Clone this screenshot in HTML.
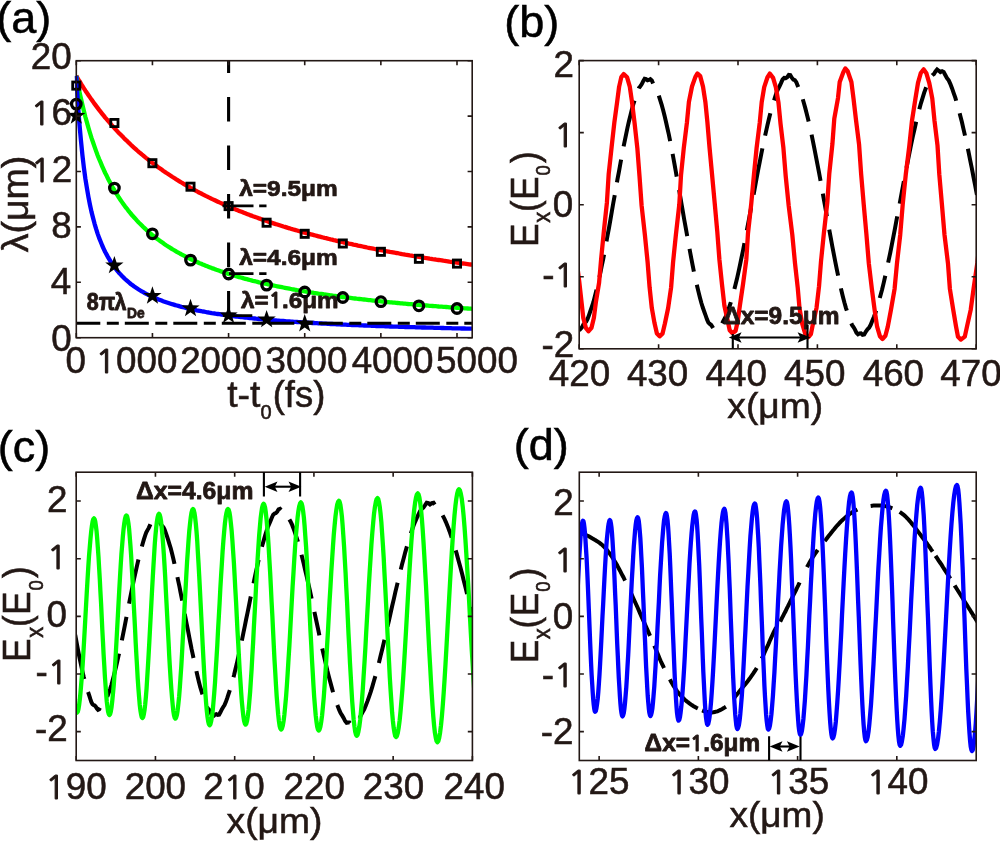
<!DOCTYPE html>
<html><head><meta charset="utf-8"><title>Figure</title>
<style>html,body{margin:0;padding:0;background:#fff;}svg{display:block;}</style></head>
<body>
<svg width="1000" height="841" viewBox="0 0 1000 841" font-family="'Liberation Sans', sans-serif">
<defs>
<clipPath id="ca"><rect x="74.8" y="60.7" width="397.40" height="277.00"/></clipPath>
<clipPath id="cb"><rect x="579.2" y="60.6" width="397.00" height="288.20"/></clipPath>
<clipPath id="cc"><rect x="76.2" y="472.2" width="396.20" height="288.30"/></clipPath>
<clipPath id="cd"><rect x="579.3" y="472.2" width="396.90" height="288.30"/></clipPath>
</defs>
<g clip-path="url(#ca)">
<path d="M76.3,75.9 L77.8,78.5 L79.3,81.0 L80.9,83.5 L82.4,86.0 L83.9,88.3 L85.4,90.7 L87.0,93.0 L88.5,95.2 L90.0,97.4 L91.5,99.6 L93.1,101.8 L94.6,103.9 L96.1,105.9 L97.6,107.9 L99.1,109.9 L100.7,111.9 L102.2,113.8 L103.7,115.7 L105.2,117.6 L106.8,119.4 L108.3,121.2 L109.8,122.9 L111.3,124.7 L112.8,126.4 L114.4,128.1 L115.9,129.7 L117.4,131.4 L118.9,133.0 L120.5,134.6 L122.0,136.1 L123.5,137.6 L125.0,139.2 L126.6,140.6 L128.1,142.1 L129.6,143.5 L131.1,145.0 L132.6,146.4 L134.2,147.8 L135.7,149.1 L137.2,150.5 L138.7,151.8 L140.3,153.1 L141.8,154.4 L143.3,155.6 L144.8,156.9 L146.3,158.1 L147.9,159.3 L149.4,160.5 L150.9,161.7 L152.4,162.9 L154.0,164.1 L155.5,165.2 L157.0,166.3 L158.5,167.4 L160.1,168.5 L161.6,169.6 L163.1,170.7 L164.6,171.7 L166.1,172.8 L167.7,173.8 L169.2,174.8 L170.7,175.8 L172.2,176.8 L173.8,177.8 L175.3,178.7 L176.8,179.7 L178.3,180.6 L179.9,181.6 L181.4,182.5 L182.9,183.4 L184.4,184.3 L185.9,185.2 L187.5,186.1 L189.0,186.9 L190.5,187.8 L192.0,188.6 L193.6,189.5 L195.1,190.3 L196.6,191.1 L198.1,192.0 L199.6,192.8 L201.2,193.5 L202.7,194.3 L204.2,195.1 L205.7,195.9 L207.3,196.6 L208.8,197.4 L210.3,198.1 L211.8,198.9 L213.4,199.6 L214.9,200.3 L216.4,201.0 L217.9,201.7 L219.4,202.4 L221.0,203.1 L222.5,203.8 L224.0,204.5 L225.5,205.2 L227.1,205.8 L228.6,206.5 L230.1,207.1 L231.6,207.8 L233.1,208.4 L234.7,209.1 L236.2,209.7 L237.7,210.3 L239.2,210.9 L240.8,211.5 L242.3,212.1 L243.8,212.7 L245.3,213.3 L246.9,213.9 L248.4,214.5 L249.9,215.1 L251.4,215.6 L252.9,216.2 L254.5,216.7 L256.0,217.3 L257.5,217.8 L259.0,218.4 L260.6,218.9 L262.1,219.5 L263.6,220.0 L265.1,220.5 L266.6,221.0 L268.2,221.6 L269.7,222.1 L271.2,222.6 L272.7,223.1 L274.3,223.6 L275.8,224.1 L277.3,224.5 L278.8,225.0 L280.4,225.5 L281.9,226.0 L283.4,226.5 L284.9,226.9 L286.4,227.4 L288.0,227.9 L289.5,228.3 L291.0,228.8 L292.5,229.2 L294.1,229.7 L295.6,230.1 L297.1,230.5 L298.6,231.0 L300.2,231.4 L301.7,231.8 L303.2,232.3 L304.7,232.7 L306.2,233.1 L307.8,233.5 L309.3,233.9 L310.8,234.3 L312.3,234.7 L313.9,235.1 L315.4,235.5 L316.9,235.9 L318.4,236.3 L319.9,236.7 L321.5,237.1 L323.0,237.5 L324.5,237.9 L326.0,238.2 L327.6,238.6 L329.1,239.0 L330.6,239.4 L332.1,239.7 L333.7,240.1 L335.2,240.4 L336.7,240.8 L338.2,241.2 L339.7,241.5 L341.3,241.9 L342.8,242.2 L344.3,242.6 L345.8,242.9 L347.4,243.2 L348.9,243.6 L350.4,243.9 L351.9,244.2 L353.4,244.6 L355.0,244.9 L356.5,245.2 L358.0,245.6 L359.5,245.9 L361.1,246.2 L362.6,246.5 L364.1,246.8 L365.6,247.1 L367.2,247.5 L368.7,247.8 L370.2,248.1 L371.7,248.4 L373.2,248.7 L374.8,249.0 L376.3,249.3 L377.8,249.6 L379.3,249.9 L380.9,250.2 L382.4,250.4 L383.9,250.7 L385.4,251.0 L387.0,251.3 L388.5,251.6 L390.0,251.9 L391.5,252.1 L393.0,252.4 L394.6,252.7 L396.1,253.0 L397.6,253.2 L399.1,253.5 L400.7,253.8 L402.2,254.1 L403.7,254.3 L405.2,254.6 L406.7,254.8 L408.3,255.1 L409.8,255.4 L411.3,255.6 L412.8,255.9 L414.4,256.1 L415.9,256.4 L417.4,256.6 L418.9,256.9 L420.5,257.1 L422.0,257.4 L423.5,257.6 L425.0,257.9 L426.5,258.1 L428.1,258.3 L429.6,258.6 L431.1,258.8 L432.6,259.1 L434.2,259.3 L435.7,259.5 L437.2,259.8 L438.7,260.0 L440.2,260.2 L441.8,260.4 L443.3,260.7 L444.8,260.9 L446.3,261.1 L447.9,261.3 L449.4,261.6 L450.9,261.8 L452.4,262.0 L454.0,262.2 L455.5,262.4 L457.0,262.6 L458.5,262.9 L460.0,263.1 L461.6,263.3 L463.1,263.5 L464.6,263.7 L466.1,263.9 L467.7,264.1 L469.2,264.3 L470.7,264.5 L472.2,264.7 L473.8,264.9 L475.3,265.1 L476.8,265.3 L478.3,265.5 L479.8,265.7" fill="none" stroke="#ff0000" stroke-width="4.3" stroke-linejoin="round"/>
<path d="M76.3,75.9 L77.8,83.8 L79.3,91.2 L80.9,98.2 L82.4,104.8 L83.9,111.1 L85.4,117.0 L87.0,122.6 L88.5,128.0 L90.0,133.0 L91.5,137.9 L93.1,142.5 L94.6,146.9 L96.1,151.1 L97.6,155.2 L99.1,159.0 L100.7,162.7 L102.2,166.3 L103.7,169.7 L105.2,173.0 L106.8,176.1 L108.3,179.2 L109.8,182.1 L111.3,184.9 L112.8,187.6 L114.4,190.2 L115.9,192.8 L117.4,195.2 L118.9,197.6 L120.5,199.9 L122.0,202.1 L123.5,204.2 L125.0,206.3 L126.6,208.3 L128.1,210.3 L129.6,212.2 L131.1,214.0 L132.6,215.8 L134.2,217.5 L135.7,219.2 L137.2,220.9 L138.7,222.5 L140.3,224.0 L141.8,225.5 L143.3,227.0 L144.8,228.4 L146.3,229.8 L147.9,231.2 L149.4,232.5 L150.9,233.8 L152.4,235.1 L154.0,236.3 L155.5,237.5 L157.0,238.7 L158.5,239.8 L160.1,240.9 L161.6,242.0 L163.1,243.1 L164.6,244.2 L166.1,245.2 L167.7,246.2 L169.2,247.2 L170.7,248.1 L172.2,249.1 L173.8,250.0 L175.3,250.9 L176.8,251.8 L178.3,252.6 L179.9,253.5 L181.4,254.3 L182.9,255.1 L184.4,255.9 L185.9,256.7 L187.5,257.5 L189.0,258.2 L190.5,259.0 L192.0,259.7 L193.6,260.4 L195.1,261.1 L196.6,261.8 L198.1,262.5 L199.6,263.2 L201.2,263.8 L202.7,264.5 L204.2,265.1 L205.7,265.7 L207.3,266.3 L208.8,266.9 L210.3,267.5 L211.8,268.1 L213.4,268.6 L214.9,269.2 L216.4,269.8 L217.9,270.3 L219.4,270.8 L221.0,271.4 L222.5,271.9 L224.0,272.4 L225.5,272.9 L227.1,273.4 L228.6,273.9 L230.1,274.3 L231.6,274.8 L233.1,275.3 L234.7,275.7 L236.2,276.2 L237.7,276.6 L239.2,277.1 L240.8,277.5 L242.3,277.9 L243.8,278.4 L245.3,278.8 L246.9,279.2 L248.4,279.6 L249.9,280.0 L251.4,280.4 L252.9,280.8 L254.5,281.1 L256.0,281.5 L257.5,281.9 L259.0,282.3 L260.6,282.6 L262.1,283.0 L263.6,283.3 L265.1,283.7 L266.6,284.0 L268.2,284.4 L269.7,284.7 L271.2,285.0 L272.7,285.3 L274.3,285.7 L275.8,286.0 L277.3,286.3 L278.8,286.6 L280.4,286.9 L281.9,287.2 L283.4,287.5 L284.9,287.8 L286.4,288.1 L288.0,288.4 L289.5,288.7 L291.0,289.0 L292.5,289.3 L294.1,289.5 L295.6,289.8 L297.1,290.1 L298.6,290.3 L300.2,290.6 L301.7,290.9 L303.2,291.1 L304.7,291.4 L306.2,291.6 L307.8,291.9 L309.3,292.1 L310.8,292.4 L312.3,292.6 L313.9,292.9 L315.4,293.1 L316.9,293.3 L318.4,293.6 L319.9,293.8 L321.5,294.0 L323.0,294.2 L324.5,294.5 L326.0,294.7 L327.6,294.9 L329.1,295.1 L330.6,295.3 L332.1,295.5 L333.7,295.8 L335.2,296.0 L336.7,296.2 L338.2,296.4 L339.7,296.6 L341.3,296.8 L342.8,297.0 L344.3,297.2 L345.8,297.4 L347.4,297.5 L348.9,297.7 L350.4,297.9 L351.9,298.1 L353.4,298.3 L355.0,298.5 L356.5,298.7 L358.0,298.8 L359.5,299.0 L361.1,299.2 L362.6,299.4 L364.1,299.5 L365.6,299.7 L367.2,299.9 L368.7,300.1 L370.2,300.2 L371.7,300.4 L373.2,300.6 L374.8,300.7 L376.3,300.9 L377.8,301.0 L379.3,301.2 L380.9,301.4 L382.4,301.5 L383.9,301.7 L385.4,301.8 L387.0,302.0 L388.5,302.1 L390.0,302.3 L391.5,302.4 L393.0,302.6 L394.6,302.7 L396.1,302.9 L397.6,303.0 L399.1,303.1 L400.7,303.3 L402.2,303.4 L403.7,303.6 L405.2,303.7 L406.7,303.8 L408.3,304.0 L409.8,304.1 L411.3,304.2 L412.8,304.4 L414.4,304.5 L415.9,304.6 L417.4,304.8 L418.9,304.9 L420.5,305.0 L422.0,305.1 L423.5,305.3 L425.0,305.4 L426.5,305.5 L428.1,305.6 L429.6,305.8 L431.1,305.9 L432.6,306.0 L434.2,306.1 L435.7,306.2 L437.2,306.3 L438.7,306.5 L440.2,306.6 L441.8,306.7 L443.3,306.8 L444.8,306.9 L446.3,307.0 L447.9,307.1 L449.4,307.3 L450.9,307.4 L452.4,307.5 L454.0,307.6 L455.5,307.7 L457.0,307.8 L458.5,307.9 L460.0,308.0 L461.6,308.1 L463.1,308.2 L464.6,308.3 L466.1,308.4 L467.7,308.5 L469.2,308.6 L470.7,308.7 L472.2,308.8 L473.8,308.9 L475.3,309.0 L476.8,309.1 L478.3,309.2 L479.8,309.3" fill="none" stroke="#00ff00" stroke-width="4.3" stroke-linejoin="round"/>
<path d="M76.3,75.9 L77.8,101.5 L79.3,122.5 L80.9,140.0 L82.4,155.0 L83.9,167.8 L85.4,178.9 L87.0,188.7 L88.5,197.3 L90.0,205.0 L91.5,211.9 L93.1,218.1 L94.6,223.8 L96.1,228.9 L97.6,233.6 L99.1,237.9 L100.7,241.8 L102.2,245.5 L103.7,248.8 L105.2,252.0 L106.8,254.9 L108.3,257.7 L109.8,260.2 L111.3,262.6 L112.8,264.9 L114.4,267.0 L115.9,269.0 L117.4,270.9 L118.9,272.7 L120.5,274.4 L122.0,276.0 L123.5,277.5 L125.0,279.0 L126.6,280.4 L128.1,281.7 L129.6,283.0 L131.1,284.2 L132.6,285.3 L134.2,286.5 L135.7,287.5 L137.2,288.5 L138.7,289.5 L140.3,290.5 L141.8,291.4 L143.3,292.2 L144.8,293.1 L146.3,293.9 L147.9,294.7 L149.4,295.4 L150.9,296.1 L152.4,296.8 L154.0,297.5 L155.5,298.2 L157.0,298.8 L158.5,299.4 L160.1,300.0 L161.6,300.6 L163.1,301.2 L164.6,301.7 L166.1,302.2 L167.7,302.7 L169.2,303.2 L170.7,303.7 L172.2,304.2 L173.8,304.6 L175.3,305.1 L176.8,305.5 L178.3,305.9 L179.9,306.4 L181.4,306.8 L182.9,307.1 L184.4,307.5 L185.9,307.9 L187.5,308.3 L189.0,308.6 L190.5,309.0 L192.0,309.3 L193.6,309.6 L195.1,309.9 L196.6,310.3 L198.1,310.6 L199.6,310.9 L201.2,311.2 L202.7,311.5 L204.2,311.7 L205.7,312.0 L207.3,312.3 L208.8,312.5 L210.3,312.8 L211.8,313.1 L213.4,313.3 L214.9,313.5 L216.4,313.8 L217.9,314.0 L219.4,314.2 L221.0,314.5 L222.5,314.7 L224.0,314.9 L225.5,315.1 L227.1,315.3 L228.6,315.5 L230.1,315.7 L231.6,315.9 L233.1,316.1 L234.7,316.3 L236.2,316.5 L237.7,316.7 L239.2,316.9 L240.8,317.0 L242.3,317.2 L243.8,317.4 L245.3,317.6 L246.9,317.7 L248.4,317.9 L249.9,318.1 L251.4,318.2 L252.9,318.4 L254.5,318.5 L256.0,318.7 L257.5,318.8 L259.0,319.0 L260.6,319.1 L262.1,319.3 L263.6,319.4 L265.1,319.5 L266.6,319.7 L268.2,319.8 L269.7,319.9 L271.2,320.1 L272.7,320.2 L274.3,320.3 L275.8,320.4 L277.3,320.6 L278.8,320.7 L280.4,320.8 L281.9,320.9 L283.4,321.0 L284.9,321.1 L286.4,321.3 L288.0,321.4 L289.5,321.5 L291.0,321.6 L292.5,321.7 L294.1,321.8 L295.6,321.9 L297.1,322.0 L298.6,322.1 L300.2,322.2 L301.7,322.3 L303.2,322.4 L304.7,322.5 L306.2,322.6 L307.8,322.7 L309.3,322.8 L310.8,322.9 L312.3,323.0 L313.9,323.0 L315.4,323.1 L316.9,323.2 L318.4,323.3 L319.9,323.4 L321.5,323.5 L323.0,323.6 L324.5,323.6 L326.0,323.7 L327.6,323.8 L329.1,323.9 L330.6,324.0 L332.1,324.0 L333.7,324.1 L335.2,324.2 L336.7,324.3 L338.2,324.3 L339.7,324.4 L341.3,324.5 L342.8,324.6 L344.3,324.6 L345.8,324.7 L347.4,324.8 L348.9,324.8 L350.4,324.9 L351.9,325.0 L353.4,325.0 L355.0,325.1 L356.5,325.2 L358.0,325.2 L359.5,325.3 L361.1,325.4 L362.6,325.4 L364.1,325.5 L365.6,325.5 L367.2,325.6 L368.7,325.7 L370.2,325.7 L371.7,325.8 L373.2,325.8 L374.8,325.9 L376.3,326.0 L377.8,326.0 L379.3,326.1 L380.9,326.1 L382.4,326.2 L383.9,326.2 L385.4,326.3 L387.0,326.3 L388.5,326.4 L390.0,326.5 L391.5,326.5 L393.0,326.6 L394.6,326.6 L396.1,326.7 L397.6,326.7 L399.1,326.8 L400.7,326.8 L402.2,326.9 L403.7,326.9 L405.2,327.0 L406.7,327.0 L408.3,327.0 L409.8,327.1 L411.3,327.1 L412.8,327.2 L414.4,327.2 L415.9,327.3 L417.4,327.3 L418.9,327.4 L420.5,327.4 L422.0,327.5 L423.5,327.5 L425.0,327.5 L426.5,327.6 L428.1,327.6 L429.6,327.7 L431.1,327.7 L432.6,327.7 L434.2,327.8 L435.7,327.8 L437.2,327.9 L438.7,327.9 L440.2,327.9 L441.8,328.0 L443.3,328.0 L444.8,328.1 L446.3,328.1 L447.9,328.1 L449.4,328.2 L450.9,328.2 L452.4,328.3 L454.0,328.3 L455.5,328.3 L457.0,328.4 L458.5,328.4 L460.0,328.4 L461.6,328.5 L463.1,328.5 L464.6,328.5 L466.1,328.6 L467.7,328.6 L469.2,328.6 L470.7,328.7 L472.2,328.7 L473.8,328.7 L475.3,328.8 L476.8,328.8 L478.3,328.8 L479.8,328.9" fill="none" stroke="#0000ff" stroke-width="4.3" stroke-linejoin="round"/>
<path d="M76.3,323.2H472.2" stroke="#000" stroke-width="3.1" stroke-dasharray="24,6.5,12,6" fill="none"/>
<path d="M228.6,48.4V337.7" stroke="#000" stroke-width="3.1" stroke-dasharray="24.5,24" fill="none"/>
</g>
<text transform="translate(239.18,195.77) scale(0.2446,0.2289)" font-size="100" font-weight="bold" stroke="#231815" stroke-width="3.27" stroke-linejoin="round" fill="#231815">λ=9.5μm</text>
<text transform="translate(239.18,265.17) scale(0.2446,0.2289)" font-size="100" font-weight="bold" stroke="#231815" stroke-width="3.27" stroke-linejoin="round" fill="#231815">λ=4.6μm</text>
<text transform="translate(241.08,308.07) scale(0.2424,0.2289)" font-size="100" font-weight="bold" stroke="#231815" stroke-width="3.30" stroke-linejoin="round" fill="#231815">λ=<tspan font-family="NanumGothic, 'Liberation Sans', sans-serif" font-size="90">1</tspan>.6μm</text>
<rect x="72.7" y="82.0" width="7.2" height="7.2" fill="none" stroke="#000" stroke-width="2.8"/>
<rect x="110.8" y="119.4" width="7.2" height="7.2" fill="none" stroke="#000" stroke-width="2.8"/>
<rect x="148.8" y="159.6" width="7.2" height="7.2" fill="none" stroke="#000" stroke-width="2.8"/>
<rect x="186.9" y="183.1" width="7.2" height="7.2" fill="none" stroke="#000" stroke-width="2.8"/>
<rect x="225.0" y="202.5" width="7.2" height="7.2" fill="none" stroke="#000" stroke-width="2.8"/>
<rect x="263.0" y="219.1" width="7.2" height="7.2" fill="none" stroke="#000" stroke-width="2.8"/>
<rect x="301.1" y="230.2" width="7.2" height="7.2" fill="none" stroke="#000" stroke-width="2.8"/>
<rect x="339.2" y="239.9" width="7.2" height="7.2" fill="none" stroke="#000" stroke-width="2.8"/>
<rect x="377.3" y="248.2" width="7.2" height="7.2" fill="none" stroke="#000" stroke-width="2.8"/>
<rect x="415.3" y="255.2" width="7.2" height="7.2" fill="none" stroke="#000" stroke-width="2.8"/>
<rect x="453.4" y="260.0" width="7.2" height="7.2" fill="none" stroke="#000" stroke-width="2.8"/>
<circle cx="76.3" cy="104.1" r="4.75" fill="none" stroke="#000" stroke-width="3.3"/>
<circle cx="114.4" cy="188.1" r="4.75" fill="none" stroke="#000" stroke-width="3.3"/>
<circle cx="152.4" cy="233.8" r="4.75" fill="none" stroke="#000" stroke-width="3.3"/>
<circle cx="190.5" cy="260.1" r="4.75" fill="none" stroke="#000" stroke-width="3.3"/>
<circle cx="228.6" cy="274.0" r="4.75" fill="none" stroke="#000" stroke-width="3.3"/>
<circle cx="266.6" cy="285.1" r="4.75" fill="none" stroke="#000" stroke-width="3.3"/>
<circle cx="304.7" cy="292.0" r="4.75" fill="none" stroke="#000" stroke-width="3.3"/>
<circle cx="342.8" cy="297.5" r="4.75" fill="none" stroke="#000" stroke-width="3.3"/>
<circle cx="380.9" cy="301.7" r="4.75" fill="none" stroke="#000" stroke-width="3.3"/>
<circle cx="418.9" cy="305.8" r="4.75" fill="none" stroke="#000" stroke-width="3.3"/>
<circle cx="457.0" cy="308.5" r="4.75" fill="none" stroke="#000" stroke-width="3.3"/>
<polygon points="76.3,106.3 78.5,112.8 85.4,112.9 79.9,117.1 81.9,123.7 76.3,119.7 70.7,123.7 72.7,117.1 67.2,112.9 74.1,112.8" fill="#000"/>
<polygon points="114.4,255.9 116.6,262.4 123.5,262.5 118.0,266.7 120.0,273.2 114.4,269.3 108.7,273.2 110.8,266.7 105.2,262.5 112.1,262.4" fill="#000"/>
<polygon points="152.4,286.3 154.7,292.9 161.6,293.0 156.1,297.1 158.1,303.7 152.4,299.8 146.8,303.7 148.8,297.1 143.3,293.0 150.2,292.9" fill="#000"/>
<polygon points="190.5,298.8 192.7,305.3 199.6,305.4 194.1,309.6 196.2,316.2 190.5,312.2 184.9,316.2 186.9,309.6 181.4,305.4 188.3,305.3" fill="#000"/>
<polygon points="228.6,305.7 230.8,312.3 237.7,312.4 232.2,316.5 234.2,323.1 228.6,319.1 222.9,323.1 225.0,316.5 219.4,312.4 226.3,312.3" fill="#000"/>
<polygon points="266.6,309.9 268.9,316.4 275.8,316.5 270.3,320.7 272.3,327.3 266.6,323.3 261.0,327.3 263.0,320.7 257.5,316.5 264.4,316.4" fill="#000"/>
<polygon points="304.7,314.0 307.0,320.6 313.9,320.7 308.3,324.8 310.4,331.4 304.7,327.4 299.1,331.4 301.1,324.8 295.6,320.7 302.5,320.6" fill="#000"/>
<path d="M222.5,205.8H253.5M259.2,205.8H266.5M229,273.7H253.5M259.2,273.7H266.5M222.8,315.7H252.3" stroke="#000" stroke-width="2.7" fill="none"/>
<rect x="76.3" y="60.7" width="395.90" height="277.00" fill="none" stroke="#231815" stroke-width="1.6"/>
<path d="M76.30,337.7v-4.6M76.30,60.7v4.6M152.44,337.7v-4.6M152.44,60.7v4.6M228.58,337.7v-4.6M228.58,60.7v4.6M304.72,337.7v-4.6M304.72,60.7v4.6M380.86,337.7v-4.6M380.86,60.7v4.6M457.00,337.7v-4.6M457.00,60.7v4.6M76.3,337.70h4.6M472.2,337.70h-4.6M76.3,282.30h4.6M472.2,282.30h-4.6M76.3,226.90h4.6M472.2,226.90h-4.6M76.3,171.50h4.6M472.2,171.50h-4.6M76.3,116.10h4.6M472.2,116.10h-4.6M76.3,60.70h4.6M472.2,60.70h-4.6" stroke="#231815" stroke-width="1.6" fill="none"/>
<text x="65.53" y="373.00" font-size="36.8" stroke="#231815" stroke-width="0.55" fill="#231815">0</text>
<text y="373.00" font-size="36.8" stroke="#231815" stroke-width="0.55" fill="#231815"><tspan x="95.50" font-family="NanumGothic, 'Liberation Sans', sans-serif" font-size="33.1" stroke-width="1.1">1</tspan><tspan x="116.06">000</tspan></text>
<text x="180.16" y="373.00" font-size="36.8" stroke="#231815" stroke-width="0.55" fill="#231815">2000</text>
<text x="265.62" y="373.00" font-size="36.8" stroke="#231815" stroke-width="0.55" fill="#231815">3000</text>
<text x="351.67" y="373.00" font-size="36.8" stroke="#231815" stroke-width="0.55" fill="#231815">4000</text>
<text x="436.03" y="373.00" font-size="36.8" stroke="#231815" stroke-width="0.55" fill="#231815">5000</text>
<text x="30.73" y="69.00" font-size="36.8" stroke="#231815" stroke-width="0.55" fill="#231815">20</text>
<text y="125.40" font-size="36.8" stroke="#231815" stroke-width="0.55" fill="#231815"><tspan x="30.82" font-family="NanumGothic, 'Liberation Sans', sans-serif" font-size="33.1" stroke-width="1.1">1</tspan><tspan x="51.38">6</tspan></text>
<text y="181.80" font-size="36.8" stroke="#231815" stroke-width="0.55" fill="#231815"><tspan x="31.10" font-family="NanumGothic, 'Liberation Sans', sans-serif" font-size="33.1" stroke-width="1.1">1</tspan><tspan x="51.66">2</tspan></text>
<text x="51.34" y="238.10" font-size="36.8" stroke="#231815" stroke-width="0.55" fill="#231815">8</text>
<text x="50.79" y="294.40" font-size="36.8" stroke="#231815" stroke-width="0.55" fill="#231815">4</text>
<text x="51.16" y="350.60" font-size="36.8" stroke="#231815" stroke-width="0.55" fill="#231815">0</text>
<text transform="translate(87.5,310.1) scale(1,1.12)" font-weight="bold" stroke="#231815" stroke-width="0.8" stroke-linejoin="round" fill="#231815"><tspan x="-0.70" y="0.00" font-size="21.5">8πλ</tspan><tspan x="39.57" y="7.40" font-size="13.8">De</tspan></text>
<text transform="translate(0,0)" stroke="#231815" stroke-width="0.55" fill="#231815"><tspan x="227.14" y="407.30" font-size="37.3">t-t</tspan><tspan x="260.40" y="419.30" font-size="20">0</tspan><tspan x="272.73" y="407.40" font-size="36.4">(fs)</tspan></text>
<text transform="translate(28.17,252.28) rotate(-90) scale(0.3745,0.3678)" font-size="100" stroke="#231815" stroke-width="1.47" fill="#231815">λ(μm)</text>
<text x="-3.81" y="32.70" font-size="45" stroke="#000" stroke-width="0.55" fill="#000">(a)</text>
<g clip-path="url(#cb)">
<path d="M579.0,328.0 L580.4,329.1 L581.9,327.4 L583.3,324.7 L584.7,323.1 L586.1,321.8 L587.6,319.0 L589.0,315.1 L590.4,311.0 L591.8,307.0 L593.3,302.4 L594.7,297.1 L596.1,291.5 L597.6,285.6 L599.0,279.3 L600.4,272.7 L601.8,265.7 L603.3,258.6 L604.7,251.1 L606.1,243.5 L607.5,235.7 L609.0,227.8 L610.4,219.8 L611.8,211.6 L613.2,203.5 L614.7,195.4 L616.1,187.2 L617.5,179.2 L619.0,171.3 L620.4,163.5 L621.8,155.9 L623.2,148.4 L624.7,141.2 L626.1,134.3 L627.5,127.7 L628.9,121.4 L630.4,115.4 L631.8,109.8 L633.2,104.7 L634.7,100.2 L636.1,95.8 L637.5,91.5 L638.9,88.1 L640.4,86.1 L641.8,84.1 L643.2,81.1 L644.6,78.8 L646.1,79.2 L647.5,80.3 L648.9,79.9 L650.3,79.1 L651.8,80.5 L653.2,83.7 L654.6,86.3 L656.0,88.4 L657.4,91.5 L658.8,95.6 L660.2,100.2 L661.7,104.9 L663.1,109.9 L664.5,115.5 L665.9,121.5 L667.3,127.8 L668.8,134.4 L670.2,141.4 L671.6,148.6 L673.0,156.0 L674.4,163.7 L675.8,171.5 L677.2,179.4 L678.7,187.5 L680.1,195.6 L681.5,203.8 L682.9,211.9 L684.3,220.0 L685.8,228.1 L687.2,236.0 L688.6,243.8 L690.0,251.5 L691.4,258.9 L692.8,266.1 L694.2,273.1 L695.7,279.7 L697.1,286.0 L698.5,291.9 L699.9,297.5 L701.3,302.8 L702.8,307.5 L704.2,311.5 L705.6,315.4 L707.0,319.4 L708.4,322.6 L709.8,324.0 L711.2,325.0 L712.7,327.3 L714.1,329.5 L715.5,329.2 L717.0,327.1 L718.6,326.6 L720.1,326.8 L721.6,324.9 L723.1,321.4 L724.7,318.4 L726.2,315.6 L727.7,311.8 L729.2,307.2 L730.8,302.3 L732.3,297.2 L733.8,291.5 L735.3,285.5 L736.9,279.1 L738.4,272.4 L739.9,265.4 L741.4,258.1 L743.0,250.6 L744.5,242.8 L746.0,234.9 L747.5,226.9 L749.1,218.7 L750.6,210.5 L752.1,202.2 L753.7,194.0 L755.2,185.8 L756.7,177.6 L758.2,169.6 L759.8,161.7 L761.3,153.9 L762.8,146.4 L764.3,139.1 L765.9,132.1 L767.4,125.4 L768.9,119.0 L770.4,113.0 L772.0,107.3 L773.5,102.2 L775.0,97.3 L776.5,92.7 L778.1,89.0 L779.6,86.1 L781.1,82.9 L782.6,79.5 L784.2,77.9 L785.7,78.1 L787.2,77.2 L788.8,75.0 L790.3,75.2 L791.8,77.7 L793.3,79.5 L794.8,80.1 L796.3,82.2 L797.8,85.9 L799.3,89.7 L800.8,93.4 L802.3,97.6 L803.8,102.7 L805.3,108.1 L806.8,113.9 L808.3,120.0 L809.8,126.6 L811.3,133.4 L812.8,140.6 L814.3,148.1 L815.8,155.8 L817.3,163.7 L818.9,171.8 L820.4,180.0 L821.9,188.4 L823.4,196.8 L824.9,205.2 L826.4,213.7 L827.9,222.1 L829.4,230.5 L830.9,238.7 L832.4,246.8 L833.9,254.7 L835.4,262.4 L836.9,269.9 L838.4,277.1 L839.9,283.9 L841.4,290.5 L842.9,296.7 L844.4,302.5 L845.9,307.8 L847.5,312.6 L849.0,317.1 L850.5,321.5 L852.0,324.9 L853.5,327.0 L855.0,329.6 L856.5,332.8 L858.0,334.3 L859.5,333.5 L861.0,333.3 L862.6,334.8 L864.2,334.5 L865.9,331.5 L867.5,329.3 L869.1,327.8 L870.7,324.8 L872.3,320.8 L874.0,316.7 L875.6,312.3 L877.2,307.3 L878.8,301.7 L880.4,295.8 L882.1,289.5 L883.7,282.9 L885.3,275.8 L886.9,268.5 L888.5,260.9 L890.2,253.0 L891.8,244.9 L893.4,236.7 L895.0,228.3 L896.6,219.7 L898.3,211.1 L899.9,202.5 L901.5,193.9 L903.1,185.3 L904.7,176.7 L906.4,168.3 L908.0,160.1 L909.6,152.0 L911.2,144.1 L912.8,136.5 L914.5,129.2 L916.1,122.1 L917.7,115.5 L919.3,109.2 L920.9,103.3 L922.6,97.8 L924.2,92.6 L925.8,88.2 L927.4,84.4 L929.0,80.4 L930.7,76.9 L932.3,75.2 L933.9,74.1 L935.5,71.4 L937.1,69.5 L938.8,70.8 L940.4,72.1 L942.1,71.3 L943.7,72.0 L945.4,75.2 L947.0,78.1 L948.7,80.4 L950.3,83.8 L952.0,88.2 L953.6,92.8 L955.3,97.7 L956.9,103.2 L958.6,109.1 L960.2,115.4 L961.9,122.0 L963.5,129.1 L965.2,136.4 L966.8,144.0 L968.5,151.8 L970.1,159.9 L971.8,168.2 L973.4,176.5 L975.1,185.1 L976.7,193.6 L978.4,202.2 L980.0,210.9 L981.7,219.4 L983.3,228.0 L985.0,236.3 L986.6,244.6 L988.3,252.7 L989.9,260.5 L991.6,268.1 L993.2,275.4 L994.9,282.5 L996.5,289.1 L998.2,295.4 L999.8,301.3 L1001.5,306.7 L1003.1,311.8 L1004.8,316.5 L1006.4,320.5 L1008.1,323.6 L1009.7,326.9 L1011.4,330.3 L1013.0,331.6 L1014.7,331.7 L1016.3,333.6 L1018.0,335.4" fill="none" stroke="#000" stroke-width="4" stroke-dasharray="47,13,23,13.5" stroke-dashoffset="2.2"/>
<path d="M553.3,73.0 L556.2,76.1 L558.6,86.0 L560.5,101.5 L563.0,121.8 L565.6,145.9 L568.5,174.0 L570.7,201.9 L573.8,231.5 L576.3,258.0 L579.3,282.0 L581.6,302.7 L583.3,317.9 L586.0,328.2 L588.4,331.2 L591.5,327.7 L593.9,317.8 L595.8,302.7 L599.1,282.6 L601.2,258.4 L603.9,230.9 L606.9,202.7 L608.7,174.0 L611.6,147.2 L614.4,122.1 L617.2,101.5 L619.1,86.9 L621.3,77.1 L623.7,74.1 L627.1,77.3 L629.8,86.7 L632.1,102.7 L634.6,123.3 L637.4,148.8 L639.5,176.2 L641.6,205.5 L644.9,235.1 L647.6,262.0 L649.6,287.3 L651.8,307.9 L654.5,323.1 L656.9,333.6 L659.6,336.3 L662.5,333.7 L664.9,323.5 L668.1,308.3 L671.1,287.5 L673.1,262.0 L675.9,234.7 L679.3,204.6 L681.0,175.4 L683.8,147.9 L686.9,122.7 L688.9,102.0 L692.0,86.5 L695.4,76.9 L697.5,73.5 L700.2,76.1 L703.0,86.6 L705.4,102.1 L707.4,122.3 L709.5,147.2 L712.0,174.0 L714.7,203.1 L717.3,231.9 L719.4,259.5 L722.0,284.5 L724.4,305.7 L727.6,320.3 L729.7,330.2 L732.3,333.1 L735.6,330.9 L737.8,320.7 L740.0,304.8 L743.0,284.4 L746.3,259.7 L748.0,233.2 L751.3,203.3 L754.0,174.3 L756.6,148.0 L759.7,123.0 L761.7,102.1 L764.2,87.1 L767.4,77.5 L769.8,73.6 L773.1,77.8 L775.9,87.3 L778.5,102.9 L780.5,123.5 L783.4,147.8 L785.7,176.0 L788.7,205.7 L792.3,234.7 L795.0,263.2 L797.7,287.4 L799.5,308.1 L802.2,323.7 L805.4,334.3 L808.4,337.1 L810.9,334.1 L812.9,324.0 L816.5,308.1 L819.0,286.5 L821.0,261.4 L823.9,233.0 L827.3,202.6 L829.3,173.4 L832.4,144.1 L834.3,118.6 L838.0,98.1 L839.7,82.1 L843.4,72.0 L845.3,68.5 L847.7,71.2 L851.4,82.0 L853.5,98.5 L856.0,119.9 L859.1,144.8 L861.1,173.6 L863.7,204.1 L866.4,234.1 L868.8,263.3 L871.8,288.5 L874.7,310.5 L877.1,326.7 L879.9,336.2 L882.5,339.0 L885.4,335.8 L887.8,326.6 L890.9,310.1 L894.6,288.8 L897.0,263.1 L900.2,234.9 L902.7,204.6 L905.8,174.2 L909.3,145.9 L912.0,120.6 L915.4,98.8 L918.0,82.8 L920.8,73.0 L923.7,69.4 L926.4,73.3 L929.3,83.2 L932.3,98.6 L934.5,120.8 L937.5,145.4 L939.3,174.4 L941.9,204.2 L944.5,234.8 L948.0,263.6 L949.9,289.0 L953.2,309.7 L956.1,326.8 L958.0,336.8 L960.9,339.6 L964.8,336.6 L967.1,326.1 L970.7,309.9 L973.6,288.5 L977.4,262.5 L980.5,234.5 L983.1,204.3 L987.0,174.5 L989.6,146.5 L993.7,120.8 L996.1,98.6 L999.3,83.1 L1002.8,72.3 L1006.2,69.9" fill="none" stroke="#ff0000" stroke-width="4.3" stroke-linejoin="round"/>
</g>
<rect x="579.2" y="60.6" width="397.00" height="288.20" fill="none" stroke="#231815" stroke-width="1.6"/>
<path d="M579.20,348.8v-4.6M579.20,60.6v4.6M658.60,348.8v-4.6M658.60,60.6v4.6M738.00,348.8v-4.6M738.00,60.6v4.6M817.40,348.8v-4.6M817.40,60.6v4.6M896.80,348.8v-4.6M896.80,60.6v4.6M976.20,348.8v-4.6M976.20,60.6v4.6M579.2,348.80h4.6M976.2,348.80h-4.6M579.2,276.75h4.6M976.2,276.75h-4.6M579.2,204.70h4.6M976.2,204.70h-4.6M579.2,132.65h4.6M976.2,132.65h-4.6M579.2,60.60h4.6M976.2,60.60h-4.6" stroke="#231815" stroke-width="1.6" fill="none"/>
<text x="548.74" y="386.40" font-size="36.8" stroke="#231815" stroke-width="0.55" fill="#231815">420</text>
<text x="626.89" y="386.40" font-size="36.8" stroke="#231815" stroke-width="0.55" fill="#231815">430</text>
<text x="705.59" y="386.40" font-size="36.8" stroke="#231815" stroke-width="0.55" fill="#231815">440</text>
<text x="783.99" y="386.40" font-size="36.8" stroke="#231815" stroke-width="0.55" fill="#231815">450</text>
<text x="862.69" y="386.40" font-size="36.8" stroke="#231815" stroke-width="0.55" fill="#231815">460</text>
<text x="940.34" y="386.40" font-size="36.8" stroke="#231815" stroke-width="0.55" fill="#231815">470</text>
<text x="553.62" y="76.60" font-size="36.8" stroke="#231815" stroke-width="0.55" fill="#231815">2</text>
<text y="146.60" font-size="36.8" stroke="#231815" stroke-width="0.55" fill="#231815"><tspan x="554.33" font-family="NanumGothic, 'Liberation Sans', sans-serif" font-size="33.1" stroke-width="1.1">1</tspan></text>
<text x="552.76" y="216.80" font-size="36.8" stroke="#231815" stroke-width="0.55" fill="#231815">0</text>
<text y="286.90" font-size="36.8" stroke="#231815" stroke-width="0.55" fill="#231815"><tspan x="542.19">-</tspan><tspan x="554.35" font-family="NanumGothic, 'Liberation Sans', sans-serif" font-size="33.1" stroke-width="1.1">1</tspan></text>
<text x="541.58" y="357.00" font-size="36.8" stroke="#231815" stroke-width="0.55" fill="#231815">-2</text>
<text transform="translate(727.28,418.41) scale(0.3720,0.3539)" font-size="100" stroke="#231815" stroke-width="1.48" fill="#231815">x(μm)</text>
<text transform="translate(537.80,243.80) rotate(-90) scale(1,1.13)" stroke="#231815" stroke-width="0.55" fill="#231815"><tspan x="-2.86" y="0.00" font-size="34.7">E</tspan><tspan x="20.93" y="10.97" font-size="21.8">x</tspan><tspan x="31.83" y="0.00" font-size="34.7">(</tspan><tspan x="44.14" y="0.00" font-size="34.7">E</tspan><tspan x="68.36" y="10.97" font-size="18.5">0</tspan><tspan x="80.84" y="0.00" font-size="34.7">)</tspan></text>
<text x="504.19" y="36.50" font-size="45" stroke="#000" stroke-width="0.55" fill="#000">(b)</text>
<text transform="translate(723.02,324.34) scale(0.2453,0.2400)" font-size="100" font-weight="bold" stroke="#231815" stroke-width="3.26" stroke-linejoin="round" fill="#231815">Δx=9.5μm</text>
<path d="M733.8,337.5H805.4" stroke="#000" stroke-width="2.1" fill="none"/>
<path d="M728.8,337.5l12.8,-5.3l-2.7,5.3l2.7,5.3z M810.4,337.5l-12.8,-5.3l2.7,5.3l-2.7,5.3z" fill="#000"/>
<path d="M732.8,334V348.8M807.5,325V348.8" stroke="#000" stroke-width="2.1"/>
<g clip-path="url(#cc)">
<path d="M45.0,520.0 L46.1,521.4 L47.2,521.9 L48.3,521.7 L49.4,522.2 L50.5,524.2 L51.6,527.3 L52.7,530.3 L53.8,533.0 L54.9,535.8 L56.0,539.2 L57.1,543.2 L58.2,547.6 L59.4,552.2 L60.5,556.9 L61.6,561.9 L62.7,567.1 L63.8,572.6 L64.9,578.2 L66.0,584.0 L67.1,589.9 L68.2,595.9 L69.3,601.9 L70.4,608.1 L71.5,614.3 L72.6,620.4 L73.7,626.6 L74.8,632.6 L75.9,638.6 L77.0,644.5 L78.1,650.3 L79.2,656.0 L80.3,661.4 L81.4,666.6 L82.5,671.6 L83.6,676.4 L84.8,681.0 L85.9,685.3 L87.0,689.0 L88.1,692.2 L89.2,695.4 L90.3,698.9 L91.4,702.1 L92.5,704.2 L93.6,705.1 L94.7,705.5 L95.8,706.7 L96.9,708.6 L98.0,709.8 L99.2,709.2 L100.4,707.1 L101.6,705.5 L102.8,705.0 L104.0,704.2 L105.2,702.0 L106.5,698.8 L107.7,695.5 L108.9,692.4 L110.1,689.1 L111.3,685.3 L112.5,680.9 L113.7,676.3 L114.9,671.6 L116.1,666.6 L117.3,661.4 L118.5,655.9 L119.8,650.3 L121.0,644.5 L122.2,638.6 L123.4,632.6 L124.6,626.6 L125.8,620.4 L127.0,614.2 L128.2,608.1 L129.4,601.9 L130.6,595.9 L131.8,589.9 L133.0,584.0 L134.2,578.2 L135.5,572.6 L136.7,567.1 L137.9,561.9 L139.1,556.8 L140.3,552.1 L141.5,547.7 L142.7,543.5 L143.9,539.4 L145.1,535.6 L146.3,532.4 L147.5,530.1 L148.8,527.9 L150.0,525.1 L151.2,522.3 L152.4,520.9 L153.6,521.1 L154.8,521.6 L156.0,520.7 L157.2,519.4 L158.5,519.6 L159.7,521.7 L160.9,524.2 L162.1,525.9 L163.4,527.2 L164.6,529.5 L165.8,532.9 L167.1,536.7 L168.3,540.4 L169.5,544.3 L170.8,548.5 L172.0,553.3 L173.2,558.3 L174.4,563.5 L175.7,568.9 L176.9,574.5 L178.1,580.3 L179.4,586.3 L180.6,592.5 L181.8,598.7 L183.0,605.0 L184.3,611.4 L185.5,617.8 L186.7,624.1 L188.0,630.5 L189.2,636.8 L190.4,643.0 L191.6,649.2 L192.9,655.2 L194.1,661.0 L195.3,666.6 L196.6,672.0 L197.8,677.3 L199.0,682.3 L200.2,686.9 L201.5,691.2 L202.7,695.1 L203.9,698.9 L205.2,702.7 L206.4,706.0 L207.6,708.1 L208.9,709.5 L210.1,711.4 L211.3,714.0 L212.5,716.0 L213.8,715.9 L215.0,714.5 L216.4,714.1 L217.7,714.9 L219.1,714.7 L220.4,712.3 L221.8,709.4 L223.1,707.2 L224.5,705.1 L225.8,702.1 L227.2,698.2 L228.5,694.1 L229.9,690.0 L231.2,685.4 L232.6,680.5 L234.0,675.3 L235.3,669.8 L236.7,664.1 L238.0,658.2 L239.4,652.1 L240.7,645.8 L242.1,639.3 L243.4,632.8 L244.8,626.2 L246.1,619.5 L247.5,612.8 L248.9,606.0 L250.2,599.3 L251.6,592.7 L252.9,586.2 L254.3,579.7 L255.6,573.4 L257.0,567.3 L258.3,561.4 L259.7,555.7 L261.0,550.2 L262.4,545.0 L263.8,540.1 L265.1,535.5 L266.5,531.1 L267.8,527.3 L269.2,524.0 L270.5,520.9 L271.9,517.5 L273.2,514.7 L274.6,513.5 L275.9,513.1 L277.3,511.6 L278.6,509.3 L280.0,508.8 L281.5,510.7 L283.0,512.1 L284.4,512.0 L285.9,512.7 L287.4,515.5 L288.9,518.6 L290.4,521.2 L291.8,524.1 L293.3,527.9 L294.8,532.2 L296.3,536.6 L297.8,541.3 L299.2,546.4 L300.7,551.9 L302.2,557.6 L303.7,563.5 L305.1,569.7 L306.6,576.1 L308.1,582.6 L309.6,589.3 L311.1,596.1 L312.5,603.0 L314.0,610.0 L315.5,617.0 L317.0,624.0 L318.5,631.0 L319.9,637.9 L321.4,644.7 L322.9,651.4 L324.4,657.9 L325.9,664.3 L327.3,670.5 L328.8,676.4 L330.3,682.1 L331.8,687.6 L333.2,692.7 L334.7,697.4 L336.2,701.8 L337.7,706.0 L339.2,709.9 L340.6,713.1 L342.1,715.4 L343.6,717.9 L345.1,721.0 L346.6,722.8 L348.0,722.5 L349.5,722.5 L351.0,724.3 L352.6,725.1 L354.3,722.7 L355.9,720.9 L357.6,720.5 L359.2,718.7 L360.9,715.4 L362.5,712.3 L364.2,709.3 L365.8,705.5 L367.5,701.1 L369.1,696.6 L370.8,691.6 L372.4,686.4 L374.0,680.8 L375.7,674.9 L377.3,668.8 L379.0,662.4 L380.6,655.8 L382.3,649.0 L383.9,642.1 L385.6,635.1 L387.2,627.9 L388.9,620.7 L390.5,613.5 L392.1,606.3 L393.8,599.1 L395.4,591.9 L397.1,584.9 L398.7,578.0 L400.4,571.2 L402.0,564.6 L403.7,558.3 L405.3,552.1 L407.0,546.2 L408.6,540.6 L410.2,535.4 L411.9,530.4 L413.5,525.8 L415.2,521.6 L416.8,518.0 L418.5,514.4 L420.1,511.0 L421.8,508.8 L423.4,507.6 L425.1,505.2 L426.7,502.7 L428.4,503.1 L430.0,504.4 L431.8,503.1 L433.5,502.8 L435.3,505.5 L437.1,507.5 L438.9,508.7 L440.6,511.4 L442.4,514.9 L444.2,518.3 L445.9,522.1 L447.7,526.4 L449.5,531.2 L451.2,536.2 L453.0,541.7 L454.8,547.4 L456.6,553.4 L458.3,559.8 L460.1,566.3 L461.9,573.1 L463.6,580.0 L465.4,587.1 L467.2,594.4 L469.0,601.7 L470.7,609.1 L472.5,616.5 L474.3,623.9 L476.0,631.3 L477.8,638.6 L479.6,645.9 L481.4,653.0 L483.1,659.9 L484.9,666.7 L486.7,673.2 L488.4,679.6 L490.2,685.6 L492.0,691.3 L493.8,696.8 L495.5,701.8 L497.3,706.5 L499.1,710.9 L500.8,714.9 L502.6,718.2 L504.4,721.0 L506.1,724.3 L507.9,726.7 L509.7,727.1 L511.5,728.3 L513.2,731.0 L515.0,730.4" fill="none" stroke="#000" stroke-width="4" stroke-dasharray="45,13.5,24,13.5" stroke-dashoffset="70.7"/>
<path d="M60.0,519.4 L60.7,520.2 L61.4,522.7 L62.1,526.8 L62.8,532.3 L63.5,539.4 L64.2,547.7 L65.0,557.2 L65.7,567.7 L66.4,579.0 L67.1,591.0 L67.8,603.4 L68.5,616.0 L69.2,628.6 L69.9,641.0 L70.6,653.0 L71.3,664.3 L72.0,674.8 L72.8,684.3 L73.5,692.6 L74.2,699.7 L74.9,705.2 L75.6,709.3 L76.3,711.8 L77.0,712.6 L77.7,711.8 L78.4,709.3 L79.1,705.2 L79.8,699.6 L80.5,692.5 L81.2,684.2 L82.0,674.6 L82.7,664.1 L83.4,652.7 L84.1,640.6 L84.8,628.2 L85.5,615.5 L86.2,602.8 L86.9,590.4 L87.6,578.3 L88.3,567.0 L89.0,556.4 L89.8,546.8 L90.5,538.5 L91.2,531.4 L91.9,525.8 L92.6,521.7 L93.3,519.2 L94.0,518.4 L94.6,519.2 L95.3,521.7 L95.9,525.9 L96.6,531.6 L97.2,538.7 L97.8,547.2 L98.5,556.9 L99.1,567.5 L99.8,579.1 L100.4,591.3 L101.1,603.9 L101.7,616.7 L102.3,629.5 L103.0,642.1 L103.6,654.3 L104.3,665.8 L104.9,676.5 L105.6,686.2 L106.2,694.7 L106.8,701.8 L107.5,707.5 L108.1,711.7 L108.8,714.2 L109.4,715.0 L110.1,714.1 L110.8,711.6 L111.5,707.4 L112.2,701.6 L112.9,694.4 L113.7,685.8 L114.4,676.0 L115.1,665.1 L115.8,653.4 L116.5,641.0 L117.2,628.2 L117.9,615.2 L118.6,602.2 L119.3,589.4 L120.0,577.0 L120.7,565.3 L121.4,554.4 L122.2,544.6 L122.9,536.0 L123.6,528.8 L124.3,523.0 L125.0,518.8 L125.7,516.3 L126.4,515.4 L127.1,516.3 L127.7,518.9 L128.4,523.1 L129.1,529.0 L129.7,536.3 L130.4,545.1 L131.1,555.0 L131.7,566.0 L132.4,577.9 L133.1,590.5 L133.7,603.5 L134.4,616.7 L135.1,629.9 L135.7,642.9 L136.4,655.5 L137.1,667.3 L137.7,678.4 L138.4,688.3 L139.1,697.1 L139.7,704.4 L140.4,710.3 L141.1,714.5 L141.7,717.1 L142.4,718.0 L143.1,717.1 L143.8,714.5 L144.5,710.2 L145.2,704.3 L145.9,696.9 L146.6,688.1 L147.2,678.1 L147.9,667.0 L148.6,655.0 L149.3,642.3 L150.0,629.2 L150.7,615.9 L151.4,602.6 L152.1,589.5 L152.8,576.8 L153.5,564.9 L154.2,553.7 L154.8,543.7 L155.5,534.9 L156.2,527.5 L156.9,521.6 L157.6,517.3 L158.3,514.7 L159.0,513.8 L159.7,514.7 L160.4,517.3 L161.1,521.6 L161.7,527.5 L162.4,535.0 L163.1,543.8 L163.8,553.9 L164.5,565.0 L165.2,577.0 L165.8,589.7 L166.5,602.8 L167.2,616.2 L167.9,629.6 L168.6,642.7 L169.2,655.4 L169.9,667.4 L170.6,678.5 L171.3,688.6 L172.0,697.4 L172.7,704.9 L173.3,710.8 L174.0,715.1 L174.7,717.7 L175.4,718.6 L176.1,717.7 L176.9,715.0 L177.6,710.6 L178.3,704.6 L179.1,696.9 L179.8,687.9 L180.5,677.6 L181.3,666.2 L182.0,653.9 L182.7,640.9 L183.5,627.5 L184.2,613.8 L184.9,600.1 L185.7,586.7 L186.4,573.7 L187.1,561.4 L187.9,550.0 L188.6,539.7 L189.3,530.7 L190.1,523.0 L190.8,517.0 L191.5,512.6 L192.3,509.9 L193.0,509.0 L193.7,509.9 L194.4,512.7 L195.1,517.2 L195.8,523.5 L196.5,531.3 L197.2,540.7 L197.8,551.3 L198.5,563.0 L199.2,575.7 L199.9,589.1 L200.6,603.0 L201.3,617.1 L202.0,631.2 L202.7,645.1 L203.4,658.5 L204.1,671.1 L204.8,682.9 L205.4,693.5 L206.1,702.9 L206.8,710.7 L207.5,717.0 L208.2,721.5 L208.9,724.3 L209.6,725.2 L210.4,724.3 L211.1,721.5 L211.9,717.0 L212.7,710.7 L213.4,702.9 L214.2,693.5 L215.0,682.9 L215.7,671.2 L216.5,658.5 L217.3,645.1 L218.0,631.2 L218.8,617.1 L219.6,603.0 L220.3,589.1 L221.1,575.7 L221.9,563.1 L222.6,551.3 L223.4,540.7 L224.2,531.3 L224.9,523.5 L225.7,517.2 L226.5,512.7 L227.2,509.9 L228.0,509.0 L228.7,509.9 L229.5,512.7 L230.2,517.2 L230.9,523.4 L231.7,531.3 L232.4,540.6 L233.1,551.2 L233.9,562.9 L234.6,575.5 L235.3,588.9 L236.1,602.7 L236.8,616.8 L237.5,630.9 L238.3,644.7 L239.0,658.1 L239.7,670.7 L240.5,682.4 L241.2,693.0 L241.9,702.3 L242.7,710.2 L243.4,716.4 L244.1,720.9 L244.9,723.7 L245.6,724.6 L246.3,723.7 L247.1,720.8 L247.8,716.2 L248.6,709.8 L249.3,701.8 L250.1,692.3 L250.8,681.4 L251.6,669.4 L252.3,656.4 L253.1,642.8 L253.8,628.6 L254.6,614.2 L255.4,599.8 L256.1,585.6 L256.9,572.0 L257.6,559.0 L258.4,547.0 L259.1,536.1 L259.9,526.6 L260.6,518.6 L261.4,512.2 L262.1,507.6 L262.9,504.7 L263.6,503.8 L264.3,504.8 L265.1,507.6 L265.8,512.4 L266.5,518.9 L267.2,527.1 L268.0,536.9 L268.7,548.0 L269.4,560.2 L270.2,573.5 L270.9,587.5 L271.6,602.0 L272.4,616.7 L273.1,631.4 L273.8,645.9 L274.5,659.9 L275.3,673.1 L276.0,685.4 L276.7,696.5 L277.5,706.3 L278.2,714.5 L278.9,721.0 L279.6,725.8 L280.4,728.6 L281.1,729.6 L281.9,728.6 L282.8,725.7 L283.6,721.0 L284.4,714.4 L285.2,706.1 L286.1,696.3 L286.9,685.2 L287.7,672.8 L288.5,659.5 L289.4,645.4 L290.2,630.8 L291.0,616.0 L291.8,601.2 L292.6,586.6 L293.5,572.5 L294.3,559.2 L295.1,546.8 L295.9,535.7 L296.8,525.9 L297.6,517.6 L298.4,511.0 L299.2,506.3 L300.1,503.4 L300.9,502.4 L301.6,503.4 L302.4,506.3 L303.1,511.1 L303.9,517.7 L304.6,526.0 L305.3,535.8 L306.1,547.0 L306.8,559.4 L307.6,572.8 L308.3,587.0 L309.1,601.6 L309.8,616.5 L310.5,631.4 L311.3,646.0 L312.0,660.2 L312.8,673.5 L313.5,686.0 L314.2,697.2 L315.0,707.0 L315.7,715.3 L316.5,721.9 L317.2,726.7 L318.0,729.6 L318.7,730.6 L319.5,729.6 L320.4,726.7 L321.2,721.9 L322.1,715.2 L322.9,706.9 L323.8,696.9 L324.6,685.6 L325.4,673.1 L326.3,659.7 L327.1,645.4 L328.0,630.7 L328.8,615.7 L329.6,600.7 L330.5,586.0 L331.3,571.7 L332.2,558.2 L333.0,545.8 L333.8,534.5 L334.7,524.5 L335.5,516.2 L336.4,509.5 L337.2,504.7 L338.1,501.8 L338.9,500.8 L339.6,501.8 L340.4,504.8 L341.1,509.7 L341.9,516.5 L342.6,525.1 L343.3,535.2 L344.1,546.8 L344.8,559.5 L345.6,573.3 L346.3,587.9 L347.1,602.9 L347.8,618.2 L348.5,633.6 L349.3,648.6 L350.0,663.2 L350.8,677.0 L351.5,689.7 L352.2,701.3 L353.0,711.4 L353.7,720.0 L354.5,726.8 L355.2,731.7 L356.0,734.7 L356.7,735.7 L357.6,734.7 L358.4,731.7 L359.3,726.7 L360.2,719.8 L361.0,711.2 L361.9,700.9 L362.8,689.2 L363.6,676.3 L364.5,662.4 L365.4,647.6 L366.2,632.4 L367.1,616.9 L368.0,601.4 L368.8,586.2 L369.7,571.4 L370.6,557.5 L371.4,544.6 L372.3,532.9 L373.2,522.6 L374.0,514.0 L374.9,507.1 L375.8,502.1 L376.6,499.1 L377.5,498.1 L378.3,499.1 L379.0,502.2 L379.8,507.2 L380.6,514.1 L381.4,522.8 L382.1,533.1 L382.9,544.8 L383.7,557.8 L384.4,571.8 L385.2,586.6 L386.0,602.0 L386.8,617.5 L387.5,633.1 L388.3,648.5 L389.1,663.3 L389.8,677.3 L390.6,690.3 L391.4,702.0 L392.1,712.3 L392.9,721.0 L393.7,727.9 L394.5,732.9 L395.2,736.0 L396.0,737.0 L396.9,736.0 L397.8,732.8 L398.7,727.7 L399.6,720.7 L400.5,711.8 L401.4,701.3 L402.4,689.3 L403.3,676.1 L404.2,661.8 L405.1,646.7 L406.0,631.1 L406.9,615.2 L407.8,599.3 L408.7,583.7 L409.6,568.6 L410.5,554.3 L411.4,541.1 L412.4,529.1 L413.3,518.6 L414.2,509.7 L415.1,502.7 L416.0,497.6 L416.9,494.4 L417.8,493.4 L418.6,494.5 L419.4,497.6 L420.2,502.9 L421.1,510.1 L421.9,519.1 L422.7,529.8 L423.5,542.1 L424.3,555.6 L425.1,570.2 L426.0,585.6 L426.8,601.6 L427.6,617.8 L428.4,634.0 L429.2,650.0 L430.1,665.4 L430.9,680.0 L431.7,693.5 L432.5,705.8 L433.3,716.5 L434.1,725.5 L434.9,732.7 L435.8,738.0 L436.6,741.1 L437.4,742.2 L438.3,741.1 L439.2,737.9 L440.1,732.6 L441.0,725.3 L441.9,716.1 L442.8,705.1 L443.7,692.7 L444.6,679.0 L445.5,664.1 L446.4,648.4 L447.3,632.2 L448.2,615.7 L449.1,599.2 L450.0,583.0 L450.9,567.3 L451.8,552.5 L452.7,538.7 L453.6,526.3 L454.5,515.3 L455.4,506.1 L456.3,498.8 L457.2,493.5 L458.1,490.3 L459.0,489.2 L459.9,490.3 L460.8,493.6 L461.8,499.0 L462.7,506.4 L463.6,515.7 L464.5,526.7 L465.4,539.4 L466.3,553.3 L467.2,568.3 L468.2,584.2 L469.1,600.7 L470.0,617.4 L470.9,634.1 L471.8,650.6 L472.8,666.5 L473.7,681.5 L474.6,695.4 L475.5,708.1 L476.4,719.1 L477.3,728.4 L478.2,735.8 L479.2,741.2 L480.1,744.5 L481.0,745.6" fill="none" stroke="#00ff00" stroke-width="4.3" stroke-linejoin="round"/>
</g>
<rect x="76.2" y="472.2" width="396.20" height="288.30" fill="none" stroke="#231815" stroke-width="1.6"/>
<path d="M76.20,760.5v-4.6M76.20,472.2v4.6M155.44,760.5v-4.6M155.44,472.2v4.6M234.68,760.5v-4.6M234.68,472.2v4.6M313.92,760.5v-4.6M313.92,472.2v4.6M393.16,760.5v-4.6M393.16,472.2v4.6M472.40,760.5v-4.6M472.40,472.2v4.6M76.2,731.67h4.6M472.4,731.67h-4.6M76.2,674.01h4.6M472.4,674.01h-4.6M76.2,616.35h4.6M472.4,616.35h-4.6M76.2,558.69h4.6M472.4,558.69h-4.6M76.2,501.03h4.6M472.4,501.03h-4.6" stroke="#231815" stroke-width="1.6" fill="none"/>
<text y="798.80" font-size="36.8" stroke="#231815" stroke-width="0.55" fill="#231815"><tspan x="45.14" font-family="NanumGothic, 'Liberation Sans', sans-serif" font-size="33.1" stroke-width="1.1">1</tspan><tspan x="65.70">90</tspan></text>
<text x="124.69" y="798.80" font-size="36.8" stroke="#231815" stroke-width="0.55" fill="#231815">200</text>
<text y="798.80" font-size="36.8" stroke="#231815" stroke-width="0.55" fill="#231815"><tspan x="203.29">2</tspan><tspan x="223.66" font-family="NanumGothic, 'Liberation Sans', sans-serif" font-size="33.1" stroke-width="1.1">1</tspan><tspan x="244.22">0</tspan></text>
<text x="283.49" y="798.80" font-size="36.8" stroke="#231815" stroke-width="0.55" fill="#231815">220</text>
<text x="362.84" y="798.80" font-size="36.8" stroke="#231815" stroke-width="0.55" fill="#231815">230</text>
<text x="443.59" y="798.80" font-size="36.8" stroke="#231815" stroke-width="0.55" fill="#231815">240</text>
<text x="47.12" y="512.10" font-size="36.8" stroke="#231815" stroke-width="0.55" fill="#231815">2</text>
<text y="569.30" font-size="36.8" stroke="#231815" stroke-width="0.55" fill="#231815"><tspan x="46.93" font-family="NanumGothic, 'Liberation Sans', sans-serif" font-size="33.1" stroke-width="1.1">1</tspan></text>
<text x="46.56" y="626.50" font-size="36.8" stroke="#231815" stroke-width="0.55" fill="#231815">0</text>
<text y="683.70" font-size="36.8" stroke="#231815" stroke-width="0.55" fill="#231815"><tspan x="35.49">-</tspan><tspan x="47.65" font-family="NanumGothic, 'Liberation Sans', sans-serif" font-size="33.1" stroke-width="1.1">1</tspan></text>
<text x="34.98" y="740.90" font-size="36.8" stroke="#231815" stroke-width="0.55" fill="#231815">-2</text>
<text transform="translate(226.53,833.09) scale(0.3720,0.3571)" font-size="100" stroke="#231815" stroke-width="1.48" fill="#231815">x(μm)</text>
<text transform="translate(30.10,658.80) rotate(-90) scale(1,1.13)" stroke="#231815" stroke-width="0.55" fill="#231815"><tspan x="-2.86" y="0.00" font-size="34.7">E</tspan><tspan x="20.93" y="10.97" font-size="21.8">x</tspan><tspan x="31.83" y="0.00" font-size="34.7">(</tspan><tspan x="44.14" y="0.00" font-size="34.7">E</tspan><tspan x="68.36" y="10.97" font-size="18.5">0</tspan><tspan x="80.84" y="0.00" font-size="34.7">)</tspan></text>
<text x="-2.31" y="461.90" font-size="45" stroke="#000" stroke-width="0.55" fill="#000">(c)</text>
<text transform="translate(136.01,498.89) scale(0.2474,0.2422)" font-size="100" font-weight="bold" stroke="#231815" stroke-width="3.23" stroke-linejoin="round" fill="#231815">Δx=4.6μm</text>
<path d="M269.7,486.7H296.3" stroke="#000" stroke-width="2.1" fill="none"/>
<path d="M264.7,486.7l12.8,-5.3l-2.7,5.3l2.7,5.3z M301.3,486.7l-12.8,-5.3l2.7,5.3l-2.7,5.3z" fill="#000"/>
<path d="M263.9,472.2V496.5M300.1,472.2V496.5" stroke="#000" stroke-width="2.1"/>
<g clip-path="url(#cd)">
<path d="M578.6,532.4 L579.1,532.6 L579.8,532.8 L580.5,533.0 L581.3,533.3 L582.3,533.6 L583.2,533.9 L584.3,534.3 L585.4,534.7 L586.5,535.2 L587.6,535.7 L588.8,536.3 L590.0,537.0 L591.2,537.7 L592.5,538.5 L593.8,539.2 L595.2,540.1 L596.6,540.9 L598.1,541.9 L599.6,542.9 L601.1,544.1 L602.5,545.3 L604.0,546.7 L605.5,548.3 L607.0,550.0 L608.4,551.9 L609.9,553.8 L611.3,555.8 L612.7,558.0 L614.1,560.2 L615.5,562.6 L617.0,565.1 L618.4,567.8 L620.0,570.7 L621.6,573.8 L623.3,577.0 L625.0,580.5 L626.9,584.3 L628.9,588.5 L631.0,593.1 L633.2,598.0 L635.5,603.0 L637.8,608.0 L640.0,613.1 L642.2,618.2 L644.4,623.0 L646.4,627.6 L648.3,631.9 L650.0,635.8 L651.6,639.3 L653.0,642.6 L654.3,645.6 L655.5,648.5 L656.6,651.2 L657.7,653.8 L658.7,656.3 L659.7,658.7 L660.7,661.0 L661.8,663.3 L662.9,665.6 L664.0,668.0 L665.2,670.4 L666.4,672.7 L667.5,675.0 L668.7,677.2 L669.9,679.4 L671.0,681.5 L672.2,683.6 L673.4,685.6 L674.6,687.5 L675.9,689.4 L677.1,691.1 L678.4,692.8 L679.7,694.4 L681.0,695.9 L682.4,697.3 L683.8,698.6 L685.1,699.9 L686.5,701.1 L687.9,702.2 L689.4,703.3 L690.8,704.3 L692.2,705.3 L693.6,706.2 L695.0,707.0 L696.4,707.8 L697.8,708.5 L699.3,709.2 L700.7,709.9 L702.2,710.5 L703.6,711.0 L705.0,711.4 L706.5,711.8 L707.9,712.1 L709.3,712.3 L710.7,712.4 L712.0,712.4 L713.3,712.3 L714.7,712.1 L716.0,711.7 L717.4,711.3 L718.7,710.7 L720.0,710.1 L721.3,709.5 L722.6,708.8 L723.8,708.1 L724.9,707.4 L726.0,706.7 L727.0,706.0 L727.9,705.4 L728.6,704.8 L729.3,704.3 L729.8,703.7 L730.3,703.2 L730.8,702.6 L731.3,701.9 L731.9,701.1 L732.5,700.2 L733.3,699.1 L734.3,697.9 L735.4,696.4 L736.7,694.7 L738.3,692.8 L739.9,690.8 L741.7,688.6 L743.6,686.3 L745.5,683.9 L747.5,681.4 L749.5,678.8 L751.4,676.1 L753.3,673.4 L755.1,670.7 L756.8,667.9 L758.4,665.0 L760.1,661.9 L761.8,658.5 L763.4,655.1 L765.0,651.5 L766.6,648.0 L768.2,644.6 L769.6,641.2 L771.0,638.1 L772.3,635.2 L773.5,632.6 L774.6,630.4 L775.5,628.6 L776.2,627.3 L776.8,626.4 L777.3,625.7 L777.6,625.1 L778.0,624.7 L778.3,624.4 L778.7,623.9 L779.1,623.3 L779.6,622.6 L780.2,621.5 L781.0,620.0 L781.9,618.2 L783.0,616.1 L784.1,613.9 L785.4,611.5 L786.6,608.9 L788.0,606.2 L789.3,603.5 L790.7,600.7 L792.0,598.0 L793.4,595.2 L794.7,592.6 L796.0,590.0 L797.2,587.5 L798.5,584.9 L799.7,582.3 L800.9,579.7 L802.2,577.1 L803.4,574.5 L804.6,572.0 L805.9,569.4 L807.1,567.0 L808.4,564.6 L809.7,562.2 L811.0,560.0 L812.3,557.8 L813.7,555.8 L815.1,553.7 L816.4,551.8 L817.8,549.8 L819.2,548.0 L820.7,546.1 L822.1,544.4 L823.4,542.6 L824.8,540.9 L826.2,539.2 L827.5,537.5 L828.8,535.8 L830.1,534.2 L831.4,532.6 L832.6,531.0 L833.9,529.5 L835.1,528.0 L836.3,526.5 L837.6,525.1 L838.8,523.8 L840.0,522.5 L841.3,521.2 L842.5,520.0 L843.7,518.9 L845.0,517.8 L846.2,516.7 L847.4,515.7 L848.6,514.8 L849.8,513.9 L851.1,513.1 L852.3,512.3 L853.6,511.5 L854.9,510.8 L856.2,510.1 L857.5,509.5 L858.9,508.9 L860.3,508.4 L861.8,507.9 L863.2,507.5 L864.7,507.1 L866.2,506.7 L867.8,506.4 L869.3,506.1 L870.7,505.9 L872.2,505.7 L873.6,505.6 L875.0,505.5 L876.3,505.4 L877.6,505.4 L878.9,505.4 L880.2,505.5 L881.4,505.6 L882.7,505.7 L883.9,505.9 L885.1,506.1 L886.3,506.4 L887.5,506.7 L888.8,507.1 L890.0,507.5 L891.2,507.9 L892.5,508.4 L893.7,508.9 L894.9,509.4 L896.1,509.9 L897.3,510.5 L898.6,511.2 L899.8,512.0 L901.1,512.8 L902.4,513.8 L903.7,514.8 L905.0,516.0 L906.4,517.3 L907.8,518.8 L909.2,520.4 L910.6,522.1 L912.1,523.9 L913.6,525.7 L915.1,527.6 L916.6,529.6 L918.1,531.6 L919.6,533.6 L921.0,535.5 L922.5,537.5 L924.0,539.5 L925.4,541.4 L926.9,543.4 L928.3,545.5 L929.8,547.5 L931.2,549.6 L932.7,551.7 L934.2,553.9 L935.6,556.0 L937.1,558.1 L938.5,560.3 L940.0,562.5 L941.5,564.7 L942.9,567.0 L944.4,569.3 L945.9,571.6 L947.4,574.0 L948.9,576.3 L950.4,578.7 L951.9,581.0 L953.3,583.3 L954.7,585.6 L956.1,587.8 L957.5,590.0 L958.9,592.2 L960.2,594.3 L961.6,596.5 L963.0,598.7 L964.3,600.9 L965.6,603.0 L966.9,605.0 L968.1,607.0 L969.3,608.9 L970.5,610.7 L971.5,612.4 L972.5,614.0 L973.4,615.5 L974.3,616.8 L975.1,618.1 L975.8,619.3 L976.5,620.5 L977.2,621.5 L977.8,622.5 L978.3,623.3 L978.8,624.1 L979.3,624.8 L979.7,625.5 L980.0,626.0" fill="none" stroke="#000" stroke-width="4" stroke-dasharray="69.4,14.0,46.7,10.7,24.4,12.8,41.1,4.7,25.4,12.2,37.5,10.6,34.4,7.1,43.7,17.1,20.2,11.4,45.8,13.8,22.1,8.2,51.8,5.2,27.1,8.2,97.7,0.0"/>
<path d="M570.0,711.6 L570.5,710.8 L571.1,708.3 L571.6,704.3 L572.2,698.8 L572.7,691.9 L573.2,683.6 L573.8,674.3 L574.3,663.9 L574.9,652.7 L575.4,640.9 L576.0,628.6 L576.5,616.1 L577.0,603.7 L577.6,591.4 L578.1,579.6 L578.7,568.4 L579.2,558.0 L579.8,548.7 L580.3,540.4 L580.8,533.5 L581.4,528.0 L581.9,524.0 L582.5,521.5 L583.0,520.7 L583.5,521.5 L584.0,524.0 L584.5,528.0 L585.0,533.5 L585.5,540.4 L586.0,548.7 L586.6,558.1 L587.1,568.5 L587.6,579.7 L588.1,591.5 L588.6,603.8 L589.1,616.2 L589.6,628.7 L590.1,641.0 L590.6,652.8 L591.1,664.0 L591.6,674.4 L592.2,683.8 L592.7,692.1 L593.2,699.0 L593.7,704.5 L594.2,708.5 L594.7,711.0 L595.2,711.8 L595.8,711.0 L596.4,708.5 L597.0,704.5 L597.7,699.0 L598.3,692.0 L598.9,683.7 L599.5,674.3 L600.1,663.9 L600.7,652.6 L601.3,640.8 L601.9,628.5 L602.5,616.0 L603.2,603.4 L603.8,591.1 L604.4,579.3 L605.0,568.0 L605.6,557.6 L606.2,548.2 L606.8,539.9 L607.5,532.9 L608.1,527.4 L608.7,523.4 L609.3,520.9 L609.9,520.1 L610.4,520.9 L610.9,523.4 L611.5,527.6 L612.0,533.2 L612.5,540.4 L613.0,548.8 L613.6,558.5 L614.1,569.2 L614.6,580.7 L615.1,592.8 L615.7,605.4 L616.2,618.2 L616.7,631.1 L617.2,643.7 L617.8,655.8 L618.3,667.3 L618.8,678.0 L619.4,687.7 L619.9,696.1 L620.4,703.3 L620.9,708.9 L621.5,713.1 L622.0,715.6 L622.5,716.4 L623.1,715.5 L623.8,713.0 L624.4,708.8 L625.0,703.1 L625.6,695.8 L626.3,687.2 L626.9,677.4 L627.5,666.6 L628.2,654.9 L628.8,642.6 L629.4,629.8 L630.0,616.8 L630.7,603.8 L631.3,591.0 L631.9,578.7 L632.6,567.0 L633.2,556.2 L633.8,546.4 L634.5,537.8 L635.1,530.5 L635.7,524.8 L636.3,520.6 L637.0,518.1 L637.6,517.2 L638.1,518.1 L638.7,520.6 L639.2,524.8 L639.7,530.5 L640.3,537.7 L640.8,546.3 L641.3,556.1 L641.9,566.9 L642.4,578.6 L642.9,590.9 L643.5,603.6 L644.0,616.6 L644.5,629.6 L645.1,642.3 L645.6,654.6 L646.1,666.3 L646.7,677.1 L647.2,686.9 L647.7,695.5 L648.3,702.7 L648.8,708.4 L649.3,712.6 L649.9,715.1 L650.4,716.0 L651.0,715.1 L651.7,712.5 L652.4,708.3 L653.0,702.4 L653.6,695.0 L654.3,686.3 L654.9,676.3 L655.6,665.2 L656.2,653.3 L656.9,640.8 L657.5,627.7 L658.2,614.5 L658.9,601.3 L659.5,588.2 L660.1,575.7 L660.8,563.8 L661.5,552.7 L662.1,542.7 L662.8,534.0 L663.4,526.6 L664.0,520.7 L664.7,516.5 L665.4,513.9 L666.0,513.0 L666.5,513.9 L667.0,516.5 L667.6,520.9 L668.1,526.9 L668.6,534.4 L669.1,543.4 L669.7,553.6 L670.2,564.9 L670.7,577.1 L671.2,589.9 L671.8,603.3 L672.3,616.8 L672.8,630.3 L673.4,643.7 L673.9,656.5 L674.4,668.7 L674.9,680.0 L675.5,690.2 L676.0,699.2 L676.5,706.7 L677.0,712.7 L677.6,717.1 L678.1,719.7 L678.6,720.6 L679.3,719.7 L680.0,717.0 L680.6,712.6 L681.3,706.6 L682.0,699.0 L682.7,690.0 L683.4,679.7 L684.1,668.3 L684.8,656.0 L685.4,643.1 L686.1,629.7 L686.8,616.0 L687.5,602.3 L688.2,588.9 L688.9,576.0 L689.5,563.7 L690.2,552.3 L690.9,542.0 L691.6,533.0 L692.3,525.4 L693.0,519.4 L693.6,515.0 L694.3,512.3 L695.0,511.4 L695.5,512.3 L696.0,515.0 L696.6,519.5 L697.1,525.7 L697.6,533.4 L698.1,542.7 L698.6,553.1 L699.2,564.8 L699.7,577.3 L700.2,590.5 L700.7,604.2 L701.2,618.1 L701.8,632.0 L702.3,645.7 L702.8,658.9 L703.3,671.5 L703.9,683.1 L704.4,693.5 L704.9,702.8 L705.4,710.5 L705.9,716.7 L706.5,721.2 L707.0,723.9 L707.5,724.8 L708.2,723.9 L708.9,721.1 L709.6,716.6 L710.3,710.3 L711.0,702.5 L711.7,693.2 L712.4,682.5 L713.1,670.8 L713.8,658.1 L714.5,644.8 L715.2,630.9 L715.9,616.8 L716.6,602.7 L717.3,588.8 L718.0,575.5 L718.7,562.8 L719.4,551.1 L720.1,540.4 L720.8,531.1 L721.5,523.3 L722.2,517.0 L722.9,512.5 L723.6,509.7 L724.3,508.8 L724.8,509.7 L725.4,512.6 L725.9,517.2 L726.5,523.6 L727.0,531.6 L727.6,541.0 L728.1,551.9 L728.7,563.8 L729.2,576.8 L729.8,590.4 L730.3,604.5 L730.8,618.9 L731.4,633.3 L731.9,647.4 L732.5,661.0 L733.0,673.9 L733.6,685.9 L734.1,696.8 L734.7,706.2 L735.2,714.2 L735.8,720.6 L736.3,725.2 L736.9,728.1 L737.4,729.0 L738.1,728.0 L738.9,725.2 L739.6,720.4 L740.3,713.9 L741.0,705.7 L741.8,696.0 L742.5,684.9 L743.2,672.6 L743.9,659.4 L744.6,645.4 L745.4,630.9 L746.1,616.2 L746.8,601.5 L747.5,587.0 L748.3,573.0 L749.0,559.8 L749.7,547.5 L750.4,536.4 L751.2,526.7 L751.9,518.5 L752.6,512.0 L753.3,507.2 L754.1,504.4 L754.8,503.4 L755.4,504.4 L755.9,507.3 L756.5,512.0 L757.1,518.6 L757.6,526.8 L758.2,536.5 L758.8,547.6 L759.3,559.9 L759.9,573.2 L760.5,587.2 L761.0,601.7 L761.6,616.5 L762.2,631.3 L762.7,645.8 L763.3,659.8 L763.9,673.0 L764.4,685.4 L765.0,696.5 L765.6,706.2 L766.1,714.4 L766.7,721.0 L767.3,725.7 L767.8,728.6 L768.4,729.6 L769.1,728.6 L769.9,725.7 L770.6,720.9 L771.4,714.3 L772.1,706.0 L772.9,696.2 L773.6,685.0 L774.4,672.6 L775.1,659.2 L775.9,645.0 L776.6,630.4 L777.4,615.5 L778.1,600.6 L778.9,586.0 L779.6,571.8 L780.4,558.5 L781.1,546.0 L781.9,534.8 L782.6,525.0 L783.4,516.7 L784.1,510.1 L784.9,505.3 L785.6,502.4 L786.4,501.4 L787.0,502.4 L787.6,505.4 L788.1,510.3 L788.7,517.0 L789.3,525.5 L789.9,535.6 L790.5,547.1 L791.1,559.8 L791.6,573.5 L792.2,587.9 L792.8,602.9 L793.4,618.1 L794.0,633.4 L794.6,648.4 L795.1,662.8 L795.7,676.5 L796.3,689.2 L796.9,700.7 L797.5,710.8 L798.1,719.3 L798.6,726.0 L799.2,730.9 L799.8,733.9 L800.4,734.9 L801.1,733.9 L801.9,730.9 L802.6,725.9 L803.4,719.0 L804.1,710.4 L804.9,700.1 L805.6,688.5 L806.4,675.6 L807.1,661.7 L807.9,647.0 L808.6,631.7 L809.3,616.2 L810.1,600.8 L810.8,585.5 L811.6,570.8 L812.3,556.9 L813.1,544.0 L813.8,532.4 L814.6,522.1 L815.3,513.5 L816.1,506.6 L816.8,501.6 L817.6,498.6 L818.3,497.6 L818.9,498.6 L819.5,501.7 L820.1,506.8 L820.7,513.7 L821.3,522.5 L821.9,532.9 L822.5,544.7 L823.1,557.8 L823.7,571.9 L824.3,586.8 L824.9,602.3 L825.5,618.0 L826.0,633.7 L826.6,649.2 L827.2,664.1 L827.8,678.2 L828.4,691.3 L829.0,703.1 L829.6,713.5 L830.2,722.3 L830.8,729.2 L831.4,734.3 L832.0,737.4 L832.6,738.4 L833.4,737.3 L834.2,734.2 L835.0,729.0 L835.8,721.9 L836.5,713.0 L837.3,702.4 L838.1,690.3 L838.9,676.9 L839.7,662.5 L840.5,647.2 L841.3,631.5 L842.0,615.4 L842.8,599.3 L843.6,583.6 L844.4,568.3 L845.2,553.9 L846.0,540.5 L846.8,528.4 L847.6,517.8 L848.4,508.9 L849.1,501.8 L849.9,496.6 L850.7,493.5 L851.5,492.4 L852.1,493.5 L852.7,496.6 L853.3,501.9 L853.9,509.1 L854.5,518.1 L855.1,528.8 L855.7,541.1 L856.3,554.6 L856.9,569.2 L857.5,584.6 L858.1,600.6 L858.8,616.8 L859.4,633.0 L860.0,649.0 L860.6,664.4 L861.2,679.0 L861.8,692.5 L862.4,704.8 L863.0,715.5 L863.6,724.5 L864.2,731.7 L864.8,737.0 L865.4,740.1 L866.0,741.2 L866.8,740.1 L867.7,736.9 L868.5,731.7 L869.3,724.4 L870.1,715.3 L871.0,704.5 L871.8,692.2 L872.6,678.6 L873.5,663.9 L874.3,648.4 L875.1,632.3 L876.0,616.0 L876.8,599.6 L877.6,583.5 L878.4,568.0 L879.3,553.3 L880.1,539.7 L880.9,527.4 L881.8,516.6 L882.6,507.5 L883.4,500.2 L884.2,495.0 L885.1,491.8 L885.9,490.7 L886.5,491.8 L887.1,495.0 L887.7,500.4 L888.3,507.8 L888.9,517.1 L889.5,528.1 L890.1,540.6 L890.7,554.5 L891.3,569.4 L891.9,585.2 L892.5,601.6 L893.0,618.2 L893.6,634.9 L894.2,651.3 L894.8,667.1 L895.4,682.0 L896.0,695.9 L896.6,708.4 L897.2,719.4 L897.8,728.7 L898.4,736.1 L899.0,741.5 L899.6,744.7 L900.2,745.8 L901.1,744.7 L901.9,741.4 L902.8,736.0 L903.6,728.5 L904.5,719.1 L905.3,708.0 L906.2,695.3 L907.0,681.3 L907.9,666.2 L908.7,650.2 L909.6,633.6 L910.4,616.8 L911.2,600.0 L912.1,583.4 L913.0,567.4 L913.8,552.3 L914.6,538.3 L915.5,525.6 L916.4,514.5 L917.2,505.1 L918.1,497.6 L918.9,492.2 L919.8,488.9 L920.6,487.8 L921.2,488.9 L921.8,492.2 L922.4,497.7 L923.0,505.3 L923.7,514.8 L924.3,526.0 L924.9,538.9 L925.5,553.1 L926.1,568.4 L926.7,584.6 L927.3,601.3 L928.0,618.3 L928.6,635.4 L929.2,652.1 L929.8,668.3 L930.4,683.6 L931.0,697.8 L931.6,710.7 L932.2,721.9 L932.8,731.4 L933.5,739.0 L934.1,744.5 L934.7,747.8 L935.3,748.9 L936.2,747.8 L937.1,744.4 L938.0,738.9 L938.9,731.2 L939.8,721.6 L940.7,710.3 L941.6,697.3 L942.5,682.9 L943.4,667.4 L944.3,651.1 L945.2,634.2 L946.1,617.0 L947.0,599.7 L947.9,582.8 L948.8,566.5 L949.7,551.0 L950.6,536.6 L951.5,523.6 L952.4,512.3 L953.3,502.7 L954.2,495.0 L955.1,489.5 L956.0,486.1 L956.9,485.0 L957.5,486.1 L958.2,489.5 L958.8,495.1 L959.4,502.8 L960.0,512.5 L960.7,524.0 L961.3,537.0 L961.9,551.5 L962.6,567.1 L963.2,583.6 L963.8,600.6 L964.5,618.0 L965.1,635.4 L965.7,652.4 L966.3,668.9 L967.0,684.5 L967.6,699.0 L968.2,712.0 L968.9,723.5 L969.5,733.2 L970.1,740.9 L970.7,746.5 L971.4,749.9 L972.0,751.0 L972.8,749.9 L973.5,746.4 L974.2,740.8 L975.0,733.0 L975.8,723.2 L976.5,711.7 L977.2,698.5 L978.0,683.9 L978.8,668.1 L979.5,651.5 L980.2,634.2 L981.0,616.7 L981.8,599.2 L982.5,581.9 L983.2,565.3 L984.0,549.5 L984.8,534.9 L985.5,521.7 L986.2,510.2 L987.0,500.4 L987.8,492.6 L988.5,487.0 L989.2,483.5 L990.0,482.4" fill="none" stroke="#0000ff" stroke-width="4.3" stroke-linejoin="round"/>
</g>
<rect x="579.3" y="472.2" width="396.90" height="288.30" fill="none" stroke="#231815" stroke-width="1.6"/>
<path d="M599.14,760.5v-4.6M599.14,472.2v4.6M698.37,760.5v-4.6M698.37,472.2v4.6M797.60,760.5v-4.6M797.60,472.2v4.6M896.82,760.5v-4.6M896.82,472.2v4.6M579.3,731.67h4.6M976.2,731.67h-4.6M579.3,674.01h4.6M976.2,674.01h-4.6M579.3,616.35h4.6M976.2,616.35h-4.6M579.3,558.69h4.6M976.2,558.69h-4.6M579.3,501.03h4.6M976.2,501.03h-4.6" stroke="#231815" stroke-width="1.6" fill="none"/>
<text y="794.40" font-size="36.8" stroke="#231815" stroke-width="0.55" fill="#231815"><tspan x="568.02" font-family="NanumGothic, 'Liberation Sans', sans-serif" font-size="33.1" stroke-width="1.1">1</tspan><tspan x="588.58">25</tspan></text>
<text y="794.40" font-size="36.8" stroke="#231815" stroke-width="0.55" fill="#231815"><tspan x="667.92" font-family="NanumGothic, 'Liberation Sans', sans-serif" font-size="33.1" stroke-width="1.1">1</tspan><tspan x="688.48">30</tspan></text>
<text y="794.40" font-size="36.8" stroke="#231815" stroke-width="0.55" fill="#231815"><tspan x="767.62" font-family="NanumGothic, 'Liberation Sans', sans-serif" font-size="33.1" stroke-width="1.1">1</tspan><tspan x="788.18">35</tspan></text>
<text y="794.40" font-size="36.8" stroke="#231815" stroke-width="0.55" fill="#231815"><tspan x="866.92" font-family="NanumGothic, 'Liberation Sans', sans-serif" font-size="33.1" stroke-width="1.1">1</tspan><tspan x="887.48">40</tspan></text>
<text x="553.32" y="515.20" font-size="36.8" stroke="#231815" stroke-width="0.55" fill="#231815">2</text>
<text y="572.30" font-size="36.8" stroke="#231815" stroke-width="0.55" fill="#231815"><tspan x="553.93" font-family="NanumGothic, 'Liberation Sans', sans-serif" font-size="33.1" stroke-width="1.1">1</tspan></text>
<text x="552.66" y="629.40" font-size="36.8" stroke="#231815" stroke-width="0.55" fill="#231815">0</text>
<text y="686.50" font-size="36.8" stroke="#231815" stroke-width="0.55" fill="#231815"><tspan x="541.79">-</tspan><tspan x="553.95" font-family="NanumGothic, 'Liberation Sans', sans-serif" font-size="33.1" stroke-width="1.1">1</tspan></text>
<text x="540.68" y="743.60" font-size="36.8" stroke="#231815" stroke-width="0.55" fill="#231815">-2</text>
<text transform="translate(729.54,827.27) scale(0.3696,0.3485)" font-size="100" stroke="#231815" stroke-width="1.49" fill="#231815">x(μm)</text>
<text transform="translate(537.90,660.20) rotate(-90) scale(1,1.13)" stroke="#231815" stroke-width="0.55" fill="#231815"><tspan x="-2.86" y="0.00" font-size="34.7">E</tspan><tspan x="20.93" y="10.97" font-size="21.8">x</tspan><tspan x="31.83" y="0.00" font-size="34.7">(</tspan><tspan x="44.14" y="0.00" font-size="34.7">E</tspan><tspan x="68.36" y="10.97" font-size="18.5">0</tspan><tspan x="80.84" y="0.00" font-size="34.7">)</tspan></text>
<text x="513.69" y="460.00" font-size="45" stroke="#000" stroke-width="0.55" fill="#000">(d)</text>
<text transform="translate(644.62,751.46) scale(0.2440,0.2389)" font-size="100" font-weight="bold" stroke="#231815" stroke-width="3.28" stroke-linejoin="round" fill="#231815">Δx=<tspan font-family="NanumGothic, 'Liberation Sans', sans-serif" font-size="90">1</tspan>.6μm</text>
<path d="M774.7,746.5H794.7" stroke="#000" stroke-width="2.1" fill="none"/>
<path d="M769.7,746.5l12.8,-5.3l-2.7,5.3l2.7,5.3z M799.7,746.5l-12.8,-5.3l2.7,5.3l-2.7,5.3z" fill="#000"/>
<path d="M769.1,736.2V760.5M800.5,736.7V760.5" stroke="#000" stroke-width="2.1"/>
</svg>
</body></html>
